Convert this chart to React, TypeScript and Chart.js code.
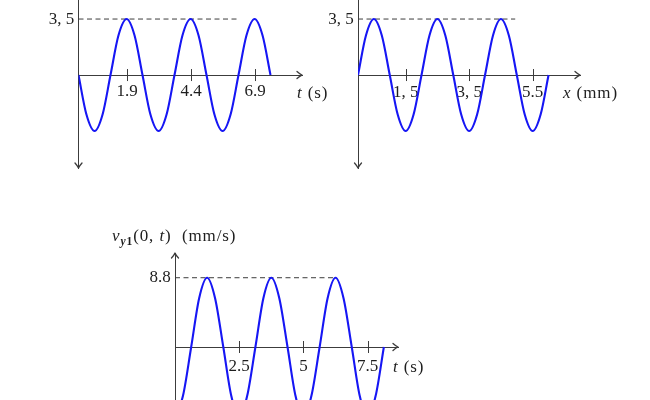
import React, { useEffect, useRef } from 'react';
import { Chart, registerables } from 'chart.js';

Chart.register(...registerables);

// ---------- data ----------
// Plot 1: displacement vs time (t in s)
const t1 = [0, 0.31, 0.63, 0.94, 1.25, 1.56, 1.88, 2.19, 2.5, 2.81, 3.13, 3.44, 3.75, 4.06, 4.38, 4.69, 5, 5.31, 5.63, 5.94, 6.25, 6.56, 6.88, 7.19, 7.5];
const y1 = [0, -2.47, -3.5, -2.47, 0, 2.47, 3.5, 2.47, 0, -2.47, -3.5, -2.47, 0, 2.47, 3.5, 2.47, 0, -2.47, -3.5, -2.47, 0, 2.47, 3.5, 2.47, 0];
const dash1X = [0, 6.2];
const dash1Y = [3.5, 3.5];
const xTicks1 = [1.9, 4.4, 6.9];
const xTickLabels1 = ['1.9', '4.4', '6.9'];
const yTicks1 = [3.5];
const yTickLabels1 = ['3, 5'];

// Plot 2: displacement vs position (x in mm)
const x2 = [0, 0.25, 0.5, 0.75, 1, 1.25, 1.5, 1.75, 2, 2.25, 2.5, 2.75, 3, 3.25, 3.5, 3.75, 4, 4.25, 4.5, 4.75, 5, 5.25, 5.5, 5.75, 6];
const y2 = [0, 2.47, 3.5, 2.47, 0, -2.47, -3.5, -2.47, 0, 2.47, 3.5, 2.47, 0, -2.47, -3.5, -2.47, 0, 2.47, 3.5, 2.47, 0, -2.47, -3.5, -2.47, 0];
const dash2X = [0, 4.95];
const dash2Y = [3.5, 3.5];
const xTicks2 = [1.5, 3.5, 5.5];
const xTickLabels2 = ['1, 5', '3, 5', '5.5'];
const yTicks2 = [3.5];
const yTickLabels2 = ['3, 5'];

// Plot 3: velocity vs time (t in s)
const t3 = [0, 0.31, 0.63, 0.94, 1.25, 1.56, 1.88, 2.19, 2.5, 2.81, 3.13, 3.44, 3.75, 4.06, 4.38, 4.69, 5, 5.31, 5.63, 5.94, 6.25, 6.56, 6.88, 7.19, 7.5, 7.81, 8.13];
const v3 = [-8.8, -6.2, 0, 6.2, 8.8, 6.2, 0, -6.2, -8.8, -6.2, 0, 6.2, 8.8, 6.2, 0, -6.2, -8.8, -6.2, 0, 6.2, 8.8, 6.2, 0, -6.2, -8.8, -6.2, 0];
const dash3X = [0, 6.25];
const dash3Y = [8.8, 8.8];
const xTicks3 = [2.5, 5, 7.5];
const xTickLabels3 = ['2.5', '5', '7.5'];
const yTicks3 = [8.8];
const yTickLabels3 = ['8.8'];

// ---------- style ----------
const FONT = '"Liberation Serif", "DejaVu Serif", serif';
const AXIS = '#3c3c3c';
const TEXT = '#1e1e1e';
const CURVE = '#1616f4';
const OFF = 30; // canvas extends this far beyond the page on every side
const TICK_SIZE = 17;
const TITLE_SIZE = 17;

type Seg = { t: string; it?: boolean; sub?: boolean; b?: boolean };

type PlotCfg = {
  xs: number[]; ys: number[];
  dx: number[]; dy: number[];
  xTicks: number[]; xLabels: string[];
  yTicks: number[]; yLabels: string[];
  xmin: number; xmax: number; ymin: number; ymax: number;
  pad: { left: number; right: number; top: number; bottom: number };
  xPad: number;
  yArrow: 'up' | 'down';
  xTitle: Seg[]; xTitlePos: [number, number];
  yTitle?: Seg[]; yTitlePos?: [number, number];
};

const plots: PlotCfg[] = [
  {
    xs: t1, ys: y1, dx: dash1X, dy: dash1Y,
    xTicks: xTicks1, xLabels: xTickLabels1, yTicks: yTicks1, yLabels: yTickLabels1,
    xmin: 0, xmax: 8.73, ymin: -5.81, ymax: 4.69,
    pad: { left: 78.5, right: 348, top: 0, bottom: 232 },
    xPad: 6, yArrow: 'down',
    xTitle: [{ t: 't', it: true }, { t: ' (s)' }], xTitlePos: [297, 98],
  },
  {
    xs: x2, ys: y2, dx: dash2X, dy: dash2Y,
    xTicks: xTicks2, xLabels: xTickLabels2, yTicks: yTicks2, yLabels: yTickLabels2,
    xmin: 0, xmax: 6.99, ymin: -5.81, ymax: 4.69,
    pad: { left: 358, right: 70, top: 0, bottom: 232 },
    xPad: 7, yArrow: 'down',
    xTitle: [{ t: 'x', it: true }, { t: ' (mm)' }], xTitlePos: [563, 98],
  },
  {
    xs: t3, ys: v3, dx: dash3X, dy: dash3Y,
    xTicks: xTicks3, xLabels: xTickLabels3, yTicks: yTicks3, yLabels: yTickLabels3,
    xmin: 0, xmax: 8.68, ymin: -6.73, ymax: 11.94,
    pad: { left: 175, right: 252, top: 253, bottom: 0 },
    xPad: 9, yArrow: 'up',
    xTitle: [{ t: 't', it: true }, { t: ' (s)' }], xTitlePos: [393, 372],
    yTitle: [
      { t: 'v', it: true },
      { t: 'y', it: true, sub: true, b: true },
      { t: '1', sub: true, b: true },
      { t: '(0, ' },
      { t: 't', it: true },
      { t: ')  (mm/s)' },
    ],
    yTitlePos: [112, 241],
  },
];

function drawRich(ctx: CanvasRenderingContext2D, segs: Seg[], x: number, y: number, size: number) {
  let cx = x;
  ctx.save();
  ctx.fillStyle = TEXT;
  ctx.textBaseline = 'alphabetic';
  ctx.textAlign = 'left';
  (ctx as any).letterSpacing = '0.9px';
  for (const s of segs) {
    const fs = s.sub ? size * 0.68 : size;
    ctx.font = `${s.it ? 'italic ' : ''}${s.b ? 'bold ' : ''}${fs}px ${FONT}`;
    ctx.fillText(s.t, cx, s.sub ? y + size * 0.22 : y);
    cx += ctx.measureText(s.t).width;
  }
  ctx.restore();
}

function makeDecor(p: PlotCfg) {
  return {
    id: 'decor',
    afterDraw(chart: any) {
      const ctx: CanvasRenderingContext2D = chart.ctx;
      const xs = chart.scales.x;
      const ys = chart.scales.y;
      const x0 = xs.getPixelForValue(0);
      const y0 = ys.getPixelForValue(0);
      const area = chart.chartArea;
      ctx.save();
      ctx.strokeStyle = AXIS;
      ctx.lineWidth = 1;
      for (const v of p.xTicks) {
        const px = Math.round(xs.getPixelForValue(v)) + 0.5;
        ctx.beginPath();
        ctx.moveTo(px, y0 - 6);
        ctx.lineTo(px, y0 + 6);
        ctx.stroke();
      }
      ctx.lineWidth = 1.3;
      ctx.lineCap = 'round';
      ctx.lineJoin = 'round';
      const xr = area.right;
      ctx.beginPath();
      ctx.moveTo(xr - 5, y0 - 3.5);
      ctx.quadraticCurveTo(xr - 2, y0 - 0.8, xr, y0);
      ctx.quadraticCurveTo(xr - 2, y0 + 0.8, xr - 5, y0 + 3.5);
      ctx.stroke();
      if (p.yArrow === 'down') {
        const yb = area.bottom;
        ctx.beginPath();
        ctx.moveTo(x0 - 3.5, yb - 5);
        ctx.quadraticCurveTo(x0 - 0.8, yb - 2, x0, yb);
        ctx.quadraticCurveTo(x0 + 0.8, yb - 2, x0 + 3.5, yb - 5);
        ctx.stroke();
      } else {
        const yt = area.top;
        ctx.beginPath();
        ctx.moveTo(x0 - 3.5, yt + 5);
        ctx.quadraticCurveTo(x0 - 0.8, yt + 2, x0, yt);
        ctx.quadraticCurveTo(x0 + 0.8, yt + 2, x0 + 3.5, yt + 5);
        ctx.stroke();
      }
      ctx.restore();
      drawRich(ctx, p.xTitle, p.xTitlePos[0] + OFF, p.xTitlePos[1] + OFF, TITLE_SIZE);
      if (p.yTitle && p.yTitlePos) drawRich(ctx, p.yTitle, p.yTitlePos[0] + OFF, p.yTitlePos[1] + OFF, TITLE_SIZE);
    },
  };
}

function PlotCanvas({ p }: { p: PlotCfg }) {
  const ref = useRef<HTMLCanvasElement | null>(null);
  useEffect(() => {
    if (!ref.current) return;
    Chart.defaults.font.family = FONT;
    const chart = new Chart(ref.current, {
      type: 'line',
      data: {
        datasets: [
          {
            data: p.xs.map((x, i) => ({ x, y: p.ys[i] })),
            borderColor: CURVE,
            borderWidth: 2.1,
            pointRadius: 0,
            cubicInterpolationMode: 'monotone',
            fill: false,
          },
          {
            data: p.dx.map((x, i) => ({ x, y: p.dy[i] })),
            borderColor: AXIS,
            borderWidth: 1,
            borderDash: [5, 3.5],
            pointRadius: 0,
            tension: 0,
            fill: false,
          },
        ],
      },
      options: {
        responsive: false,
        animation: false,
        devicePixelRatio: 1,
        events: [],
        layout: {
          padding: {
            left: p.pad.left + OFF,
            right: p.pad.right + OFF,
            top: p.pad.top + OFF,
            bottom: p.pad.bottom + OFF,
          },
        },
        plugins: { legend: { display: false }, tooltip: { enabled: false }, title: { display: false } },
        scales: {
          x: {
            type: 'linear',
            min: p.xmin,
            max: p.xmax,
            position: { y: 0 } as any,
            grid: { display: false, drawTicks: false },
            border: { display: true, color: AXIS, width: 1 },
            afterBuildTicks: (s: any) => { s.ticks = p.xTicks.map((v) => ({ value: v })); },
            ticks: {
              autoSkip: false,
              maxRotation: 0,
              minRotation: 0,
              padding: p.xPad,
              color: TEXT,
              font: { size: TICK_SIZE, family: FONT },
              callback: (_v: any, i: number) => p.xLabels[i],
            },
          },
          y: {
            type: 'linear',
            min: p.ymin,
            max: p.ymax,
            position: { x: 0 } as any,
            grid: { display: false, drawTicks: false },
            border: { display: true, color: AXIS, width: 1 },
            afterBuildTicks: (s: any) => { s.ticks = p.yTicks.map((v) => ({ value: v })); },
            ticks: {
              autoSkip: false,
              padding: 0,
              color: TEXT,
              font: { size: TICK_SIZE, family: FONT },
              callback: (_v: any, i: number) => p.yLabels[i] + ' ',
            },
          },
        },
      } as any,
      plugins: [makeDecor(p)],
    });
    return () => chart.destroy();
  }, [p]);
  return (
    <canvas
      ref={ref}
      width={650 + 2 * OFF}
      height={400 + 2 * OFF}
      style={{ position: 'absolute', left: -OFF, top: -OFF, width: 650 + 2 * OFF, height: 400 + 2 * OFF }}
    />
  );
}

export default function App() {
  return (
    <div style={{ position: 'fixed', left: 0, top: 0, width: 650, height: 400, background: '#ffffff', overflow: 'hidden' }}>
      {plots.map((p, i) => (
        <PlotCanvas key={i} p={p} />
      ))}
    </div>
  );
}
